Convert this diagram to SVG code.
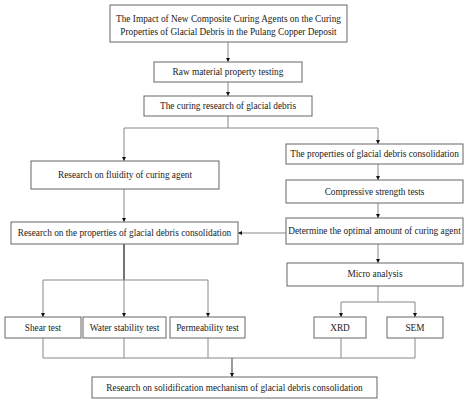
<svg xmlns="http://www.w3.org/2000/svg" width="474" height="406" viewBox="0 0 474 406">
<defs>
<marker id="ah" viewBox="0 0 6 6" refX="6" refY="3" markerWidth="4" markerHeight="4" markerUnits="userSpaceOnUse" orient="auto">
<path d="M0,0 L6,3 L0,6 Z" fill="#111"/>
</marker>
<style>
.box{fill:#fff;stroke:#666;stroke-width:1}
.t{font-family:"Liberation Serif","Times New Roman",serif;font-size:9.3px;fill:#222;text-anchor:middle}
.c{fill:none;stroke:#888;stroke-width:1}
.ca{fill:none;stroke:#888;stroke-width:1;marker-end:url(#ah)}
</style>
</defs>
<rect width="474" height="406" fill="#fff"/>
<g id="connectors">
<line class="ca" x1="228" y1="42" x2="228" y2="62"/>
<line class="ca" x1="228" y1="82" x2="228" y2="96"/>
<polyline class="c" points="228,116 228,128"/>
<polyline class="ca" points="124,128 124,161"/>
<polyline class="c" points="124,128 378,128"/>
<polyline class="ca" points="378,128 378,144"/>
<line class="ca" x1="378" y1="164" x2="378" y2="180"/>
<line class="ca" x1="378" y1="203" x2="378" y2="218"/>
<line class="ca" x1="124" y1="189" x2="124" y2="222"/>
<line class="ca" x1="286" y1="233" x2="238" y2="233"/>
<line class="ca" x1="378" y1="244" x2="378" y2="263"/>
<polyline class="c" points="378,286 378,302"/>
<polyline class="c" points="341,302 415,302"/>
<line class="ca" x1="341" y1="302" x2="341" y2="317"/>
<line class="ca" x1="415" y1="302" x2="415" y2="317"/>
<line x1="124" y1="244" x2="124" y2="280" stroke="#666" stroke-width="1.8"/>
<polyline class="c" points="43,280 208,280"/>
<line class="ca" x1="43" y1="280" x2="43" y2="317"/>
<line class="ca" x1="124" y1="280" x2="124" y2="317"/>
<line class="ca" x1="208" y1="280" x2="208" y2="317"/>
<polyline class="c" points="43,338 43,358"/>
<polyline class="c" points="124,338 124,358"/>
<polyline class="c" points="208,338 208,358"/>
<polyline class="c" points="341,338 341,358"/>
<polyline class="c" points="415,338 415,358"/>
<polyline class="c" points="43,358 415,358"/>
<line x1="232" y1="358" x2="232" y2="377" stroke="#666" stroke-width="1.3" marker-end="url(#ah)"/>
</g>
<g id="n_title">
<rect class="box" x="110" y="5" width="237" height="37"/>
<text class="t" x="228.5" y="22">The Impact of New Composite Curing Agents on the Curing</text>
<text class="t" x="228.5" y="35">Properties of Glacial Debris in the Pulang Copper Deposit</text>
</g>
<g id="n_raw">
<rect class="box" x="154" y="62" width="148" height="20"/>
<text class="t" x="228" y="75">Raw material property testing</text>
</g>
<g id="n_curing">
<rect class="box" x="144" y="96" width="168" height="20"/>
<text class="t" x="228" y="109">The curing research of glacial debris</text>
</g>
<g id="n_fluidity">
<rect class="box" x="31" y="161" width="188" height="28"/>
<text class="t" x="125" y="178">Research on fluidity of curing agent</text>
</g>
<g id="n_props_right">
<rect class="box" x="286" y="144" width="177" height="20"/>
<text class="t" x="374.5" y="157">The properties of glacial debris consolidation</text>
</g>
<g id="n_compressive">
<rect class="box" x="286" y="180" width="177" height="23"/>
<text class="t" x="374.5" y="194.5">Compressive strength tests</text>
</g>
<g id="n_optimal">
<rect class="box" x="286" y="218" width="177" height="26"/>
<text class="t" x="374.5" y="234">Determine the optimal amount of curing agent</text>
</g>
<g id="n_props_left">
<rect class="box" x="11" y="222" width="227" height="22"/>
<text class="t" x="124.5" y="236">Research on the properties of glacial debris consolidation</text>
</g>
<g id="n_micro">
<rect class="box" x="287" y="263" width="176" height="23"/>
<text class="t" x="375" y="277">Micro analysis</text>
</g>
<g id="n_xrd">
<rect class="box" x="314" y="317" width="52" height="21"/>
<text class="t" x="340" y="330.5">XRD</text>
</g>
<g id="n_sem">
<rect class="box" x="387" y="317" width="56" height="21"/>
<text class="t" x="415" y="330.5">SEM</text>
</g>
<g id="n_shear">
<rect class="box" x="5" y="317" width="76" height="21"/>
<text class="t" x="43" y="330.5">Shear test</text>
</g>
<g id="n_water">
<rect class="box" x="83" y="317" width="83" height="21"/>
<text class="t" x="124.5" y="330.5">Water stability test</text>
</g>
<g id="n_perm">
<rect class="box" x="170" y="317" width="75" height="21"/>
<text class="t" x="207.5" y="330.5">Permeability test</text>
</g>
<g id="n_mechanism">
<rect class="box" x="92" y="377" width="285" height="21"/>
<text class="t" x="234.5" y="390.5">Research on solidification mechanism of glacial debris consolidation</text>
</g>
</svg>
